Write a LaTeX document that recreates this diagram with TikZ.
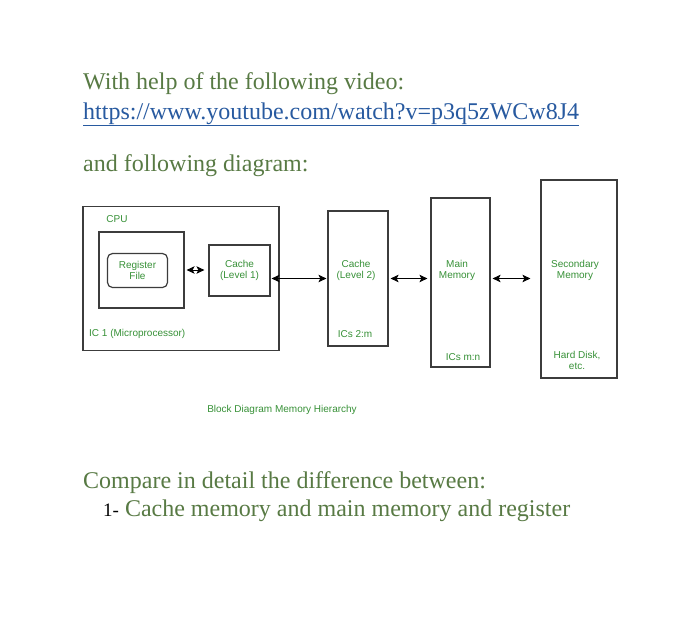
\documentclass[tikz,border=0pt]{standalone}
\usepackage{fontspec}
\setmainfont{Liberation Serif}
\newfontfamily\diag{Liberation Sans}
\usetikzlibrary{arrows.meta}
\definecolor{txtgreen}{RGB}{88,122,68}
\definecolor{urlblue}{RGB}{40,90,160}
\definecolor{lblgreen}{RGB}{55,145,55}
\definecolor{edge}{RGB}{60,60,60}
\begin{document}
\begin{tikzpicture}[x=1pt,y=-1pt,
 box/.style={draw=edge,line width=1.2pt,inner sep=0pt},
 lbl/.style={font=\diag\fontsize{10}{11}\selectfont,text=lblgreen,align=center,inner sep=0pt},
 big/.style={font=\fontsize{24}{28}\selectfont,text=txtgreen,anchor=base west,inner sep=0pt},
 link/.style={draw=black,line width=0.9pt,{Stealth[length=8pt,width=7.5pt,inset=2pt]}-{Stealth[length=8pt,width=7.5pt,inset=2pt]}}]
\useasboundingbox[fill=white] (0,0) rectangle (700,618);

\node[big] (t1) at (83,89) {With help of the following video:};
\node[big,text=urlblue] (t2) at (83,119) {\underline{https://www.youtube.com/watch?v=p3q5zWCw8J4}};
\node[big] (t3) at (83,171) {and following diagram:};
\node[big] (t4) at (83,488) {Compare in detail the difference between:};
\node[big] (t5) at (103,516) {{\fontsize{19}{22}\selectfont\color{black}1-} Cache memory and main memory and register};

\node[box,minimum width=196pt,minimum height=144pt] (cpu) at (181,278.5) {};
\node[box,minimum width=85pt,minimum height=76pt] (regout) at (141.5,270) {};
\node[box,rounded corners=5pt,minimum width=60pt,minimum height=34pt,lbl] (regf) at (137.5,270.5) {Register\\File};
\node[box,minimum width=61pt,minimum height=51pt,lbl] (l1) at (239.5,270.5) {Cache\\(Level 1)};
\node[box,minimum width=60pt,minimum height=135pt] (l2) at (358,278.5) {};
\node[box,minimum width=59pt,minimum height=169pt] (mm) at (460.5,282.5) {};
\node[box,minimum width=76pt,minimum height=198pt] (sec) at (579,279) {};

\node[lbl] (cpul) at (117,219) {CPU};
\node[lbl,anchor=west] (icl) at (89,334) {IC 1 (Microprocessor)};
\node[lbl] (l2l) at (356,270) {Cache\\(Level 2)};
\node[lbl] (l2b) at (355,334) {ICs 2:m};
\node[lbl] (mml) at (457,270) {Main\\Memory};
\node[lbl] (mmb) at (463,357) {ICs m:n};
\node[lbl] (secl) at (575,270) {Secondary\\Memory};
\node[lbl] (secb) at (577,360) {Hard Disk,\\etc.};
\node[lbl] (cap) at (282,410) {Block Diagram Memory Hierarchy};

\draw[link,shorten <=2pt,shorten >=4pt] (regout.east) -- (l1.west |- regout.east);
\draw[link,shorten <=1pt,shorten >=1pt] (l1.east |- l2.west) -- (l2.west);
\draw[link,shorten <=2pt,shorten >=3pt] (l2.east) -- (mm.west |- l2.east);
\draw[link,shorten <=2pt,shorten >=10pt] (mm.east |- l2.east) -- (sec.west |- l2.east);
\end{tikzpicture}
\end{document}
